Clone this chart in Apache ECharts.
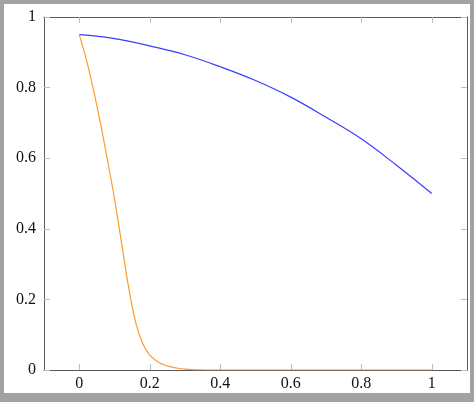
<!DOCTYPE html>
<html>
<head>
<meta charset="utf-8">
<script src="https://cdn.jsdelivr.net/npm/echarts@6/dist/echarts.min.js"></script>
<style>
html,body{margin:0;padding:0;background:#a2a2a2;}
#wrap{position:relative;width:474px;height:402px;background:#a2a2a2;overflow:hidden;}
#inner{position:absolute;left:4px;top:4px;width:466px;height:389px;background:#ffffff;}
#chart{position:absolute;left:0;top:0;width:474px;height:402px;}
</style>
</head>
<body>
<div id="wrap"><div id="inner"></div><div id="chart"></div></div>
<script>
// Tick values
var xTicks = [0, 0.2, 0.4, 0.6, 0.8, 1];
var yTicks = [0, 0.2, 0.4, 0.6, 0.8, 1];

// Blue series
var blueX = [0, 0.1, 0.2, 0.3, 0.4, 0.5, 0.6, 0.7, 0.8, 0.9, 1.0];
var blueY = [0.95, 0.939, 0.918, 0.893, 0.859, 0.820, 0.773, 0.716, 0.655, 0.580, 0.50];

// Orange series
var orangeX = [0, 0.02, 0.04, 0.06, 0.08, 0.10, 0.12, 0.14, 0.16, 0.18, 0.20, 0.22, 0.24, 0.26, 0.28, 0.30, 0.32, 0.34, 0.36, 0.4, 0.5, 0.6, 0.7, 0.8, 0.9, 1.0];
var orangeY = [0.95, 0.88, 0.795, 0.70, 0.595, 0.485, 0.36, 0.235, 0.135, 0.075, 0.042, 0.025, 0.015, 0.009, 0.005, 0.0025, 0.001, 0.0005, 0, 0, 0, 0, 0, 0, 0, 0];

function zip(a, b) { return a.map(function (v, i) { return [v, b[i]]; }); }

var chart = echarts.init(document.getElementById('chart'), null, {renderer: 'canvas'});
var font = {fontFamily: 'Liberation Serif', fontSize: 16, color: '#111'};
var tickStyle = {lineStyle: {color: '#bcbcbc', width: 1}};
chart.setOption({
  animation: false,
  backgroundColor: 'transparent',
  grid: {left: 44, top: 17, right: 7, bottom: 32, containLabel: false},
  xAxis: [{
    type: 'value', min: -0.1, max: 1.1, position: 'bottom',
    axisLine: {show: true, onZero: false, lineStyle: {color: '#5a5a5a', width: 1}},
    axisTick: Object.assign({show: true, inside: true, length: 6, customValues: xTicks}, tickStyle),
    axisLabel: Object.assign({show: true, margin: 6, customValues: xTicks, formatter: function (v) { return String(+v.toFixed(1)); }}, font),
    splitLine: {show: false}
  }, {
    type: 'value', min: -0.1, max: 1.1, position: 'top',
    axisLine: {show: true, onZero: false, lineStyle: {color: '#5a5a5a', width: 1}},
    axisTick: Object.assign({show: true, inside: true, length: 6, customValues: xTicks}, tickStyle),
    axisLabel: {show: false},
    splitLine: {show: false}
  }],
  yAxis: [{
    type: 'value', min: 0, max: 1, interval: 0.2, position: 'left',
    axisLine: {show: true, onZero: false, lineStyle: {color: '#5a5a5a', width: 1}},
    axisTick: Object.assign({show: true, inside: true, length: 6, customValues: yTicks}, tickStyle),
    axisLabel: Object.assign({show: true, margin: 8, customValues: yTicks, formatter: function (v) { return String(+v.toFixed(1)); }}, font),
    splitLine: {show: false}
  }, {
    type: 'value', min: 0, max: 1, interval: 0.2, position: 'right',
    axisLine: {show: true, onZero: false, lineStyle: {color: '#5a5a5a', width: 1}},
    axisTick: Object.assign({show: true, inside: true, length: 6, customValues: yTicks}, tickStyle),
    axisLabel: {show: false},
    splitLine: {show: false}
  }],
  series: [{
    type: 'line', xAxisIndex: 0, yAxisIndex: 0,
    data: zip(blueX, blueY), smooth: 0.4, showSymbol: false,
    lineStyle: {color: '#3b3bff', width: 1.2}
  }, {
    type: 'line', xAxisIndex: 0, yAxisIndex: 0,
    data: zip(orangeX, orangeY), smooth: 0.4, showSymbol: false,
    lineStyle: {color: '#ff9a2e', width: 1.2}
  }]
});
</script>
</body>
</html>
